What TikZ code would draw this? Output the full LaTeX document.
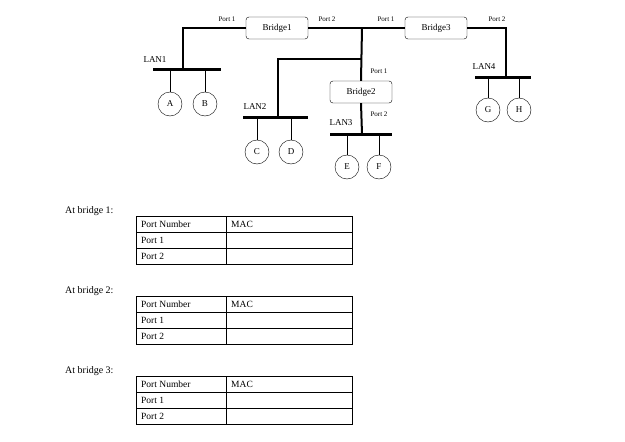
\documentclass[tikz,border=0pt]{standalone}
\usepackage{fontspec}
\setmainfont{Liberation Serif}
\usetikzlibrary{positioning}

\begin{document}
\begin{tikzpicture}[x=1pt,y=-1pt,
    bridge/.style={draw,rounded corners=3pt,minimum width=62pt,minimum height=22pt,inner sep=0pt,font=\fontsize{9}{10}\selectfont},
    host/.style={draw,circle,minimum size=24pt,inner sep=0pt,font=\fontsize{9}{10}\selectfont},
    bus/.style={line width=3pt},
    wire/.style={line width=2pt},
    port/.style={font=\fontsize{7}{8}\selectfont,inner sep=0pt},
    lan/.style={font=\fontsize{9}{10}\selectfont,inner sep=0pt},
    cell/.style={font=\fontsize{9.5}{10}\selectfont,inner sep=0pt,anchor=west}]
    \useasboundingbox (0,0) rectangle (625,442);
    % bridges
    \node[bridge] (b1) at (277,28) {Bridge1};
    \node[bridge] (b3) at (436,28) {Bridge3};
    \node[bridge] (b2) at (361,92) {Bridge2};
    % lan buses
    \coordinate (l1w) at (153,69); \coordinate (l1e) at (221,69);
    \coordinate (l2w) at (243,117); \coordinate (l2e) at (308,117);
    \coordinate (l3w) at (330,134); \coordinate (l3e) at (392,134);
    \coordinate (l4w) at (475,77); \coordinate (l4e) at (531,77);
    \draw[bus] (l1w) -- (l1e);
    \draw[bus] (l2w) -- (l2e);
    \draw[bus] (l3w) -- (l3e);
    \draw[bus] (l4w) -- (l4e);
    % links
    \coordinate (j) at (362,28);
    \coordinate (k) at (362,59);
    \draw[wire] (b1.west) -| (183,69);
    \draw[wire] (b1.east) -- (b3.west);
    \draw[wire] (j) -- (b2.north);
    \draw[wire] (k) -| (278,117);
    \draw[wire] (b3.east) -| (506,77);
    \draw[wire] (b2.south) -- (362,134);
    % hosts
    \node[host] (A) at (170,104) {A};
    \node[host] (B) at (205,104) {B};
    \node[host] (C) at (257,152) {C};
    \node[host] (D) at (291,152) {D};
    \node[host] (E) at (347,167) {E};
    \node[host] (F) at (379,167) {F};
    \node[host] (G) at (488,110) {G};
    \node[host] (H) at (519,110) {H};
    \draw (A) -- (A |- l1w);
    \draw (B) -- (B |- l1w);
    \draw (C) -- (C |- l2w);
    \draw (D) -- (D |- l2w);
    \draw (E) -- (E |- l3w);
    \draw (F) -- (F |- l3w);
    \draw (G) -- (G |- l4w);
    \draw (H) -- (H |- l4w);
    % labels
    \node[lan] at (155,60) {LAN1};
    \node[lan] at (255,107) {LAN2};
    \node[lan] at (341,123) {LAN3};
    \node[lan] at (484,67) {LAN4};
    \node[port] at (227,19) {Port 1};
    \node[port] at (327,19) {Port 2};
    \node[port] at (386,19) {Port 1};
    \node[port] at (497,19) {Port 2};
    \node[port] at (379,71) {Port 1};
    \node[port] at (379,114) {Port 2};
    % tables
    \foreach \n/\y in {1/216,2/296,3/376} {
        \node[cell,font=\fontsize{10}{11}\selectfont] at (65,\y-5) {At bridge \n:};
        \draw (136,\y) rectangle (352,\y+48);
        \draw (136,\y+16) -- (352,\y+16);
        \draw (136,\y+32) -- (352,\y+32);
        \draw (226,\y) -- (226,\y+48);
        \node[cell] at (141,\y+8) {Port Number};
        \node[cell] at (231,\y+8) {MAC};
        \node[cell] at (141,\y+24) {Port 1};
        \node[cell] at (141,\y+40) {Port 2};
    }
\end{tikzpicture}
\end{document}
